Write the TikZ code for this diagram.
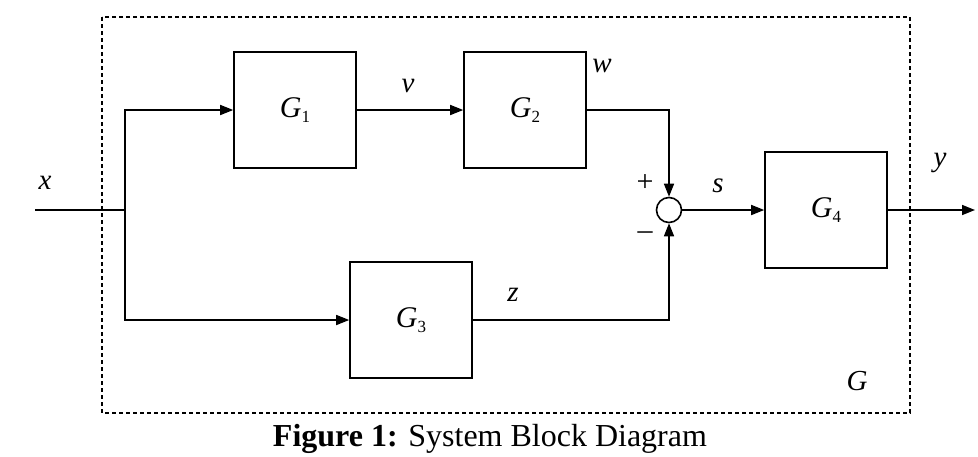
\documentclass[tikz,border=0pt]{standalone}
\usepackage{fontspec}
\setmainfont{Liberation Serif}
\usetikzlibrary{arrows.meta}
\newcommand{\gsub}[1]{{\fontsize{30}{30}\selectfont\itshape G}\raisebox{-5pt}{\fontsize{17}{17}\selectfont #1}}
\begin{document}
\begin{tikzpicture}[x=1pt,y=-1pt,line width=1.6pt,
  blk/.style={draw,minimum width=122pt,minimum height=116pt,inner sep=0pt},
  lab/.style={font=\fontsize{29}{29}\selectfont\itshape},
  arr/.style={-{Triangle[length=13pt,width=10pt]}}]
\useasboundingbox (0,0) rectangle (978,456);
\draw[dashed,line width=1.1pt,dash pattern=on 4pt off 3pt] (102,17) rectangle (910,413);
\node[blk] (g1) at (295,110) {\gsub{1}};
\node[blk] (g2) at (525,110) {\gsub{2}};
\node[blk] (g3) at (411,320) {\gsub{3}};
\node[blk] (g4) at (826,210) {\gsub{4}};
\node[draw,circle,minimum size=25pt,inner sep=0pt] (sum) at (669,210) {};
\coordinate (in) at (35,210);
\coordinate (br) at (125,210);
\coordinate (out) at (975,210);
\draw (in) -- (br);
\draw[arr] (br) |- (g1.west);
\draw[arr] (br) |- (g3.west);
\draw[arr] (g1.east) -- (g2.west);
\draw[arr] (g2.east) -| (sum.north);
\draw[arr] (g3.east) -| (sum.south);
\draw[arr] (sum.east) -- (g4.west);
\draw[arr] (g4.east) -- (out);
\node[lab] at (45,183) {x};
\node[lab] at (408,86) {v};
\node[lab] at (602,66) {w};
\node[font=\fontsize{30}{30}\selectfont] at (645,183) {+};
\node[font=\fontsize{30}{30}\selectfont] at (645,236) {\textendash};
\node[lab] at (718,186) {s};
\node[lab] at (940,163) {y};
\node[lab] at (513,295) {z};
\node[lab] at (857,381) {G};
\node[anchor=base,font=\fontsize{32}{32}\selectfont] at (490,446) {\textbf{Figure 1:} System Block Diagram};
\end{tikzpicture}
\end{document}
